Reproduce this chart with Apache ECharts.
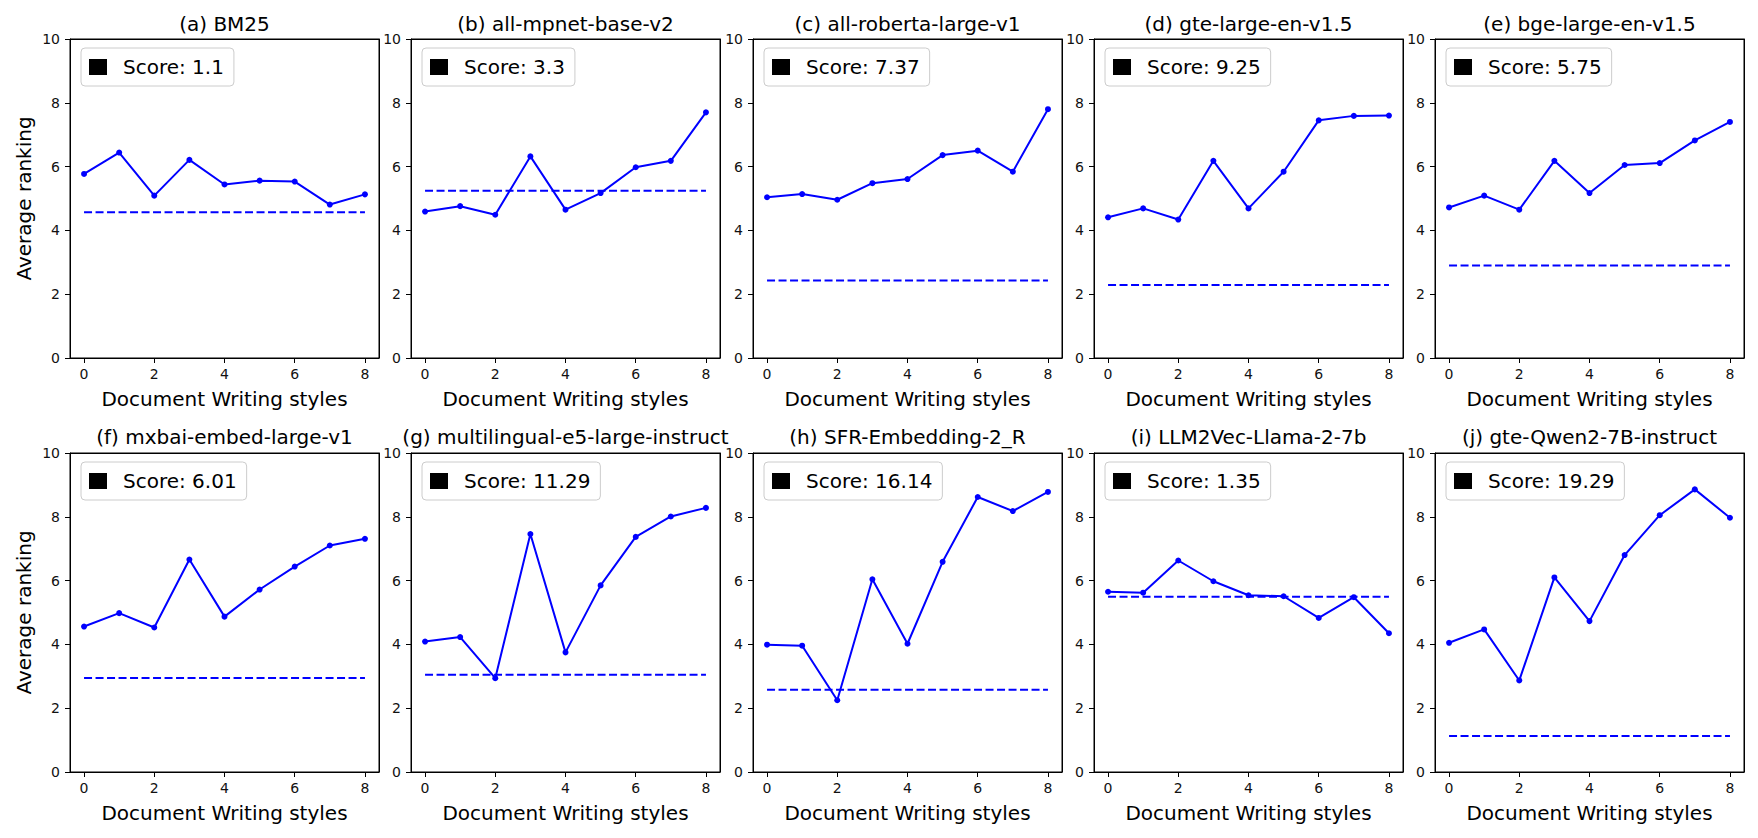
<!DOCTYPE html>
<html>
<head>
<meta charset="utf-8">
<script src="https://cdn.jsdelivr.net/npm/echarts@6/dist/echarts.min.js"></script>
<style>
html,body{margin:0;padding:0;background:#fff;}
#chart{width:1758px;height:838px;}
</style>
</head>
<body>
<div id="chart"></div>
<script>
// ---- data ----
const styles = [0, 1, 2, 3, 4, 5, 6, 7, 8];
const xTicks = [0, 2, 4, 6, 8];
const panelTitles = [
  '(a) BM25', '(b) all-mpnet-base-v2', '(c) all-roberta-large-v1', '(d) gte-large-en-v1.5', '(e) bge-large-en-v1.5',
  '(f) mxbai-embed-large-v1', '(g) multilingual-e5-large-instruct', '(h) SFR-Embedding-2_R', '(i) LLM2Vec-Llama-2-7b', '(j) gte-Qwen2-7B-instruct'
];
const scores = [1.1, 3.3, 7.37, 9.25, 5.75, 6.01, 11.29, 16.14, 1.35, 19.29];
const rankBM25     = [5.77, 6.44, 5.09, 6.21, 5.44, 5.56, 5.53, 4.81, 5.13];
const rankMpnet    = [4.59, 4.76, 4.49, 6.32, 4.65, 5.17, 5.98, 6.18, 7.70];
const rankRoberta  = [5.04, 5.14, 4.96, 5.48, 5.61, 6.36, 6.50, 5.84, 7.80];
const rankGteLarge = [4.41, 4.69, 4.34, 6.18, 4.69, 5.84, 7.45, 7.59, 7.60];
const rankBge      = [4.72, 5.09, 4.65, 6.18, 5.17, 6.05, 6.11, 6.82, 7.40];
const rankMxbai    = [4.56, 4.98, 4.53, 6.66, 4.87, 5.72, 6.44, 7.10, 7.31];
const rankE5       = [4.09, 4.23, 2.94, 7.46, 3.75, 5.85, 7.37, 8.01, 8.28];
const rankSFR      = [3.99, 3.96, 2.25, 6.04, 4.02, 6.59, 8.62, 8.18, 8.78];
const rankLLM2Vec  = [5.65, 5.62, 6.63, 5.98, 5.54, 5.51, 4.83, 5.48, 4.35];
const rankQwen     = [4.05, 4.47, 2.87, 6.10, 4.73, 6.80, 8.05, 8.86, 7.97];
const baselines    = [4.57, 5.24, 2.43, 2.29, 2.90, 2.95, 3.05, 2.58, 5.49, 1.13];
const rankings = [rankBM25, rankMpnet, rankRoberta, rankGteLarge, rankBge, rankMxbai, rankE5, rankSFR, rankLLM2Vec, rankQwen];
const xLabel = 'Document Writing styles';
const yLabel = 'Average ranking';

// ---- layout ----
const FONT = 'DejaVu Sans';
const colLefts = [70, 411, 753, 1094, 1435];
const rowTops = [39, 453];
const W = 309, H = 319;
const BLUE = '#0000ff';
const N = rankings.length;

const grids = [], xAxes = [], yAxes = [], series = [], legends = [], graphics = [];
const spine = {show: true, onZero: false, lineStyle: {color: '#000', width: 1}};

rankings.forEach((vals, i) => {
  const r = Math.floor(i / 5), c = i % 5;
  const L = colLefts[c], T = rowTops[r];
  grids.push({left: L, top: T, width: W, height: H, show: true, borderColor: '#000', borderWidth: 1, backgroundColor: 'transparent'});
  xAxes[i] = {
    type: 'value', gridIndex: i, position: 'bottom', min: -0.4, max: 8.4,
    axisLine: spine,
    axisTick: {show: true, length: 5, customValues: xTicks, lineStyle: {color: '#000'}},
    axisLabel: {show: true, customValues: xTicks, margin: 9, fontSize: 14, fontFamily: FONT, color: '#111'},
    splitLine: {show: false}
  };
  xAxes[N + i] = {
    type: 'value', gridIndex: i, position: 'top', min: -0.4, max: 8.4,
    axisLine: spine, axisTick: {show: false}, axisLabel: {show: false}, splitLine: {show: false}
  };
  yAxes[i] = {
    type: 'value', gridIndex: i, position: 'left', min: 0, max: 10, interval: 2,
    axisLine: spine,
    axisTick: {show: true, length: 5, lineStyle: {color: '#000'}},
    axisLabel: {show: true, margin: 10, fontSize: 14, fontFamily: FONT, color: '#111'},
    splitLine: {show: false}
  };
  yAxes[N + i] = {
    type: 'value', gridIndex: i, position: 'right', min: 0, max: 10, interval: 2,
    axisLine: spine, axisTick: {show: false}, axisLabel: {show: false}, splitLine: {show: false}
  };
  series.push({
    type: 'line', xAxisIndex: i, yAxisIndex: i, silent: true,
    data: vals.map((v, k) => [styles[k], v]),
    symbol: 'circle', symbolSize: 6, showSymbol: true,
    itemStyle: {color: BLUE}, lineStyle: {color: BLUE, width: 2}, z: 3
  });
  series.push({
    type: 'line', xAxisIndex: i, yAxisIndex: i, silent: true,
    data: [[styles[0], baselines[i]], [styles[styles.length - 1], baselines[i]]],
    symbol: 'none', lineStyle: {color: BLUE, width: 2, type: [8, 3.5]}, z: 2
  });
  const name = 'Score: ' + scores[i];
  series.push({type: 'scatter', name: name, xAxisIndex: i, yAxisIndex: i, data: [], itemStyle: {color: '#000', opacity: 1}});
  legends.push({
    data: [{name: name, icon: 'rect', itemStyle: {color: '#000', opacity: 1, borderWidth: 0}}],
    left: L + 11, top: T + 9, orient: 'vertical', selectedMode: false,
    itemWidth: 18, itemHeight: 16, padding: [9, 10, 9, 8],
    backgroundColor: 'rgba(255,255,255,0.8)', borderColor: '#cccccc', borderWidth: 1, borderRadius: 4,
    textStyle: {fontSize: 20, fontFamily: FONT, color: '#000', lineHeight: 20, padding: [0, 0, 0, 11]}
  });
  graphics.push({
    type: 'text', x: L + W / 2, y: r === 0 ? 24 : 437, silent: true,
    style: {text: panelTitles[i], fontSize: 20, fontFamily: FONT, fill: '#000', textAlign: 'center', textVerticalAlign: 'middle', align: 'center', verticalAlign: 'middle'}
  });
  graphics.push({
    type: 'text', x: L + W / 2, y: T + H + 41, silent: true,
    style: {text: xLabel, fontSize: 20, fontFamily: FONT, fill: '#000', textAlign: 'center', textVerticalAlign: 'middle', align: 'center', verticalAlign: 'middle'}
  });
  if (c === 0) {
    graphics.push({
      type: 'text', x: 24, y: T + H / 2, rotation: Math.PI / 2, silent: true,
      style: {text: yLabel, fontSize: 20, fontFamily: FONT, fill: '#000', textAlign: 'center', textVerticalAlign: 'middle', align: 'center', verticalAlign: 'middle'}
    });
  }
});

const chart = echarts.init(document.getElementById('chart'), null, {renderer: 'svg', width: 1758, height: 838});
chart.setOption({
  animation: false,
  backgroundColor: '#fff',
  textStyle: {fontFamily: FONT},
  grid: grids, xAxis: xAxes, yAxis: yAxes, series: series, legend: legends, graphic: graphics
});
</script>
</body>
</html>
